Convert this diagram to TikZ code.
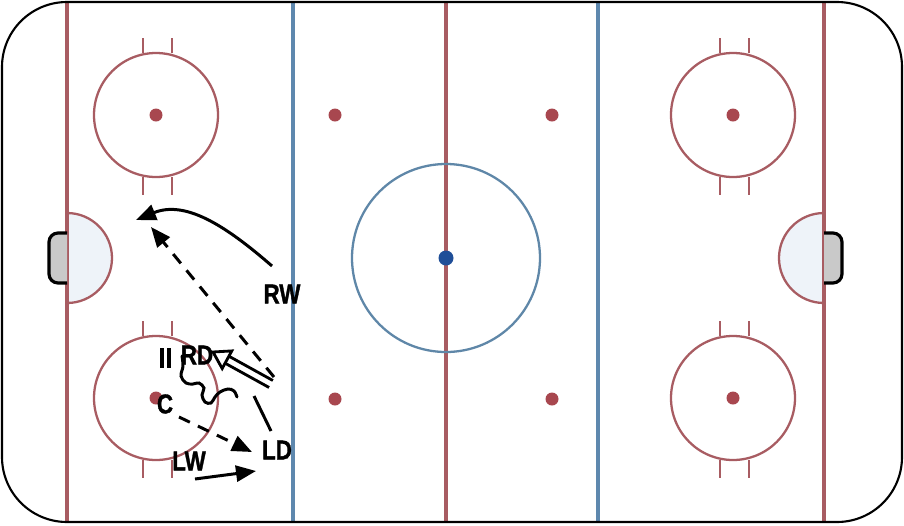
\documentclass[tikz,border=0pt]{standalone}
\usepackage{fontspec}
\setmainfont{Liberation Sans}
\newfontfamily\plfont[FakeStretch=0.82,FakeBold=1.2]{Liberation Sans}
\usetikzlibrary{arrows.meta,calc}
\definecolor{rinkred}{HTML}{A85C62}
\definecolor{rinkblue}{HTML}{5E88AE}
\definecolor{ccblue}{HTML}{5F87A8}
\definecolor{dotred}{HTML}{A8474F}
\definecolor{dotblue}{HTML}{1F4E98}
\definecolor{crease}{HTML}{EEF3F9}
\definecolor{netgray}{HTML}{C9C9C9}
\tikzset{
  redline/.style={draw=rinkred,line width=2pt},
  blueline/.style={draw=rinkblue,line width=2pt},
  fcircle/.style={draw=rinkred,line width=1.3pt},
  hash/.style={draw=rinkred,line width=1.3pt},
  spot/.style={fill=dotred},
  player/.style={font=\plfont\bfseries\fontsize{15.5}{17}\selectfont,inner sep=0pt},
  tip/.style={-{Triangle[length=0.4cm,width=0.32cm]}},
  mv/.style={line width=1.7pt,tip},
  pass/.style={line width=1.7pt,dash pattern=on 0.24cm off 0.18cm},
  net/.style={fill=netgray,draw=black,line width=1.8pt},
}
\begin{document}
\begin{tikzpicture}[x=0.02cm,y=-0.02cm]
\useasboundingbox (0,0) rectangle (904,525);
% rink
\fill[white] (0,0) rectangle (904,525);
\begin{scope}
\clip[rounded corners=1.3cm] (2,2) rectangle (902,522);
\draw[redline] (67,0) -- (67,525);
\draw[redline] (824,0) -- (824,525);
\draw[redline] (446,0) -- (446,525);
\draw[blueline] (293,0) -- (293,525);
\draw[blueline] (598,0) -- (598,525);
\end{scope}
% creases and nets
\draw[fcircle,fill=crease] (67,213) arc[start angle=-90,end angle=90,radius=45] -- cycle;
\draw[fcircle,fill=crease] (824,213) arc[start angle=-90,end angle=-270,radius=45] -- cycle;
\draw[redline] (67,200) -- (67,310);
\draw[redline] (824,200) -- (824,310);
\draw[net] (67,233) -- (58,233) arc[start angle=-90,end angle=-180,radius=9] -- (49,274) arc[start angle=180,end angle=90,radius=9] -- (67,283);
\draw[net] (824,233) -- (833,233) arc[start angle=-90,end angle=0,radius=9] -- (842,274) arc[start angle=0,end angle=90,radius=9] -- (824,283);
% faceoff circles
\foreach \cx/\cy in {156/115,156/398,733/115,733/398}{
  \draw[fcircle] (\cx,\cy) circle[radius=62];
  \fill[spot] (\cx,\cy) circle[radius=6.5];
  \draw[hash] (\cx-13,\cy-62) -- (\cx-13,\cy-77);
  \draw[hash] (\cx+16,\cy-62) -- (\cx+16,\cy-77);
  \draw[hash] (\cx-13,\cy+62) -- (\cx-13,\cy+80);
  \draw[hash] (\cx+16,\cy+62) -- (\cx+16,\cy+80);
}
% neutral zone spots
\foreach \cx/\cy in {335/115,552/115,335/399,552/399}{
  \fill[spot] (\cx,\cy) circle[radius=6.5];
}
% center circle
\draw[draw=ccblue,line width=1.3pt] (446,258) circle[radius=94];
\fill[dotblue] (446,258) circle[radius=7.5];
% rink boundary
\draw[line width=1.2pt,rounded corners=1.3cm] (2,2) rectangle (902,522);
% players
\node[player] (RW) at (282,294) {RW};
\node[player] (RD) at (197,355) {RD};
\node[player] (C) at (165,404) {C};
\node[player] (LD) at (277,450) {LD};
\node[player] (LW) at (189,461) {LW};
% connector endpoints
\coordinate (rwS) at (272,266);
\coordinate (rwE) at (136,220);
\coordinate (p1S) at (274,377);
\coordinate (p1E) at (151,227);
\coordinate (ldS) at (254,396);
\coordinate (ldE) at (271,431);
\coordinate (p2S) at (179,417);
\coordinate (p2E) at (252,452);
\coordinate (lwS) at (195,479);
\coordinate (lwE) at (256,471);
% RW skate
\draw[mv] (rwS) .. controls (225,225) and (185,200) .. (rwE);
% passes
\draw[pass,tip] (p1S) -- (p1E);
\draw[pass,tip] (p2S) -- (p2E);
% LD skate
\draw[line width=1.7pt] (ldS) -- (ldE);
% LW skate
\draw[mv] (lwS) -- (lwE);
% stop marks
\coordinate (s1a) at (162,348); \coordinate (s1b) at (162,368);
\coordinate (s2a) at (169,348); \coordinate (s2b) at (169,368);
\draw[line width=1.9pt] (s1a) -- (s1b);
\draw[line width=1.9pt] (s2a) -- (s2b);
% double-line open arrow
\coordinate (dA1) at (269.1,387.5); \coordinate (dB1) at (225.1,363.2);
\coordinate (dA2) at (272.9,380.5); \coordinate (dB2) at (228.9,356.2);
\coordinate (hTip) at (213,352); \coordinate (hC1) at (222.2,368.5); \coordinate (hC2) at (231.8,350.9);
\draw[line width=1.6pt] (dA1) -- (dB1);
\draw[line width=1.6pt] (dA2) -- (dB2);
\draw[line width=1.6pt,fill=white,line join=miter] (hTip) -- (hC1) -- (hC2) -- cycle;
% puck carrying wavy line
\draw[line width=1.7pt,line cap=round] plot[smooth,tension=0.6] coordinates {(182,356) (183,366) (181,376) (186,383) (193,384) (199,383) (204,388) (202,395) (205,402) (211,403) (215,397) (220,392) (228,389) (234,391) (237,397)};
\end{tikzpicture}
\end{document}
